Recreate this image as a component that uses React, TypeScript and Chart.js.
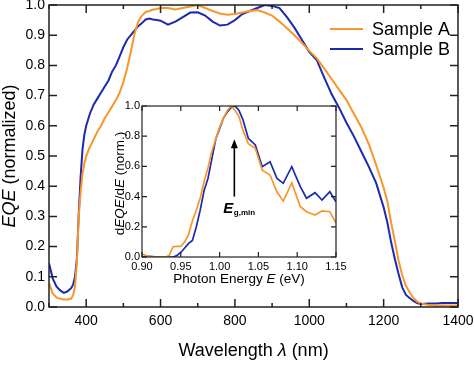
import { useEffect, useRef } from 'react';
import { Chart, registerables } from 'chart.js';

Chart.register(...registerables);

const FONT = '"Liberation Sans", Arial, Helvetica, sans-serif';

// ---------- main EQE data ----------
const wavelengths = [
  300, 310, 320, 330, 340, 350, 360, 365, 370, 375, 380, 385, 390, 395, 400, 410, 420, 430, 440, 450,
  460, 470, 480, 490, 500, 510, 520, 530, 540, 550, 560, 570, 580, 590, 600, 620, 640, 660, 680, 700,
  720, 740, 760, 780, 800, 820, 840, 860, 880, 900, 920, 940, 960, 980, 1000, 1020, 1040, 1060, 1080, 1100,
  1120, 1140, 1160, 1180, 1200, 1210, 1220, 1230, 1240, 1250, 1260, 1270, 1280, 1290, 1300, 1320, 1340, 1360, 1380, 1400,
];
const sampleA = [
  0.08, 0.045, 0.032, 0.027, 0.025, 0.025, 0.028, 0.04, 0.068, 0.15, 0.30, 0.38, 0.44, 0.475, 0.50, 0.53, 0.555, 0.58, 0.60, 0.625,
  0.645, 0.665, 0.685, 0.71, 0.745, 0.79, 0.845, 0.905, 0.945, 0.965, 0.977, 0.98, 0.985, 0.987, 0.99, 0.99, 0.985, 0.99, 0.995, 1.0,
  0.99, 0.98, 0.972, 0.968, 0.97, 0.975, 0.98, 0.983, 0.975, 0.965, 0.945, 0.923, 0.9, 0.875, 0.848, 0.824, 0.79, 0.755, 0.72, 0.685,
  0.64, 0.595, 0.54, 0.47, 0.395, 0.35, 0.28, 0.22, 0.155, 0.105, 0.07, 0.048, 0.03, 0.018, 0.012, 0.007, 0.005, 0.005, 0.005, 0.005,
];
const sampleB = [
  0.145, 0.095, 0.068, 0.055, 0.047, 0.052, 0.063, 0.075, 0.10, 0.16, 0.31, 0.43, 0.52, 0.57, 0.60, 0.64, 0.67, 0.69, 0.71, 0.73,
  0.75, 0.78, 0.80, 0.83, 0.86, 0.885, 0.90, 0.915, 0.93, 0.94, 0.952, 0.955, 0.952, 0.95, 0.948, 0.935, 0.945, 0.96, 0.975, 0.976,
  0.965, 0.945, 0.932, 0.935, 0.95, 0.97, 0.98, 0.99, 1.0, 0.997, 0.99, 0.96, 0.925, 0.885, 0.845, 0.818, 0.76, 0.705, 0.66, 0.61,
  0.565, 0.515, 0.465, 0.41, 0.33, 0.28, 0.215, 0.16, 0.11, 0.065, 0.04, 0.03, 0.02, 0.013, 0.01, 0.012, 0.012, 0.013, 0.013, 0.013,
];

// ---------- inset dEQE/dE data ----------
const energies = [
  0.90, 0.91, 0.92, 0.93, 0.935, 0.94, 0.945, 0.95, 0.955, 0.96, 0.965, 0.97, 0.975, 0.98, 0.985, 0.99, 0.995, 1.0, 1.005, 1.01,
  1.015, 1.02, 1.025, 1.03, 1.037, 1.046, 1.055, 1.065, 1.074, 1.082, 1.093, 1.104, 1.112, 1.123, 1.132, 1.142, 1.15,
];
const derivA = [
  0.02, 0.0, 0.0, 0.0, 0.01, 0.068, 0.07, 0.07, 0.10, 0.15, 0.24, 0.31, 0.39, 0.50, 0.59, 0.70, 0.78, 0.86, 0.92, 0.97,
  1.0, 0.97, 0.93, 0.84, 0.75, 0.72, 0.575, 0.543, 0.43, 0.37, 0.49, 0.333, 0.30, 0.278, 0.305, 0.30, 0.225,
];
const derivB = [
  0.0, 0.005, 0.0, 0.0, 0.0, 0.0, 0.01, 0.03, 0.06, 0.09, 0.11, 0.20, 0.31, 0.44, 0.52, 0.65, 0.78, 0.85, 0.92, 0.96,
  0.99, 1.0, 0.97, 0.91, 0.786, 0.742, 0.598, 0.631, 0.52, 0.488, 0.598, 0.466, 0.389, 0.426, 0.377, 0.433, 0.366,
];

const seriesLabels = ['Sample A', 'Sample B'];
const seriesColors = ['#F7962B', '#1B2AAE'];

// arrow marking E_g,min in inset (energy, from value, to value)
const arrowEnergy = 1.019;
const arrowFrom = 0.40;
const arrowTo = 0.78;

type Seg = { t: string; f: string };

function drawRich(ctx: CanvasRenderingContext2D, segs: Seg[], x: number, y: number, rot: boolean) {
  ctx.save();
  ctx.translate(x, y);
  if (rot) ctx.rotate(-Math.PI / 2);
  let total = 0;
  const widths = segs.map((s) => {
    ctx.font = s.f;
    const w = ctx.measureText(s.t).width;
    total += w;
    return w;
  });
  let cx = -total / 2;
  ctx.fillStyle = '#000';
  ctx.textBaseline = 'middle';
  ctx.textAlign = 'left';
  segs.forEach((s, i) => {
    ctx.font = s.f;
    ctx.fillText(s.t, cx, 0);
    cx += widths[i];
  });
  ctx.restore();
}

function frameTicks(id: string, isMajor: (v: number) => boolean, majorLen: number, minorLen: number, yLen: number, lw: number) {
  return {
    id,
    afterDatasetsDraw(chart: any) {
      const { ctx, chartArea: a, scales } = chart;
      const x = scales.x;
      const y = scales.y;
      ctx.save();
      ctx.strokeStyle = '#222';
      ctx.lineWidth = lw;
      ctx.beginPath();
      for (const t of x.ticks) {
        const px = x.getPixelForValue(t.value);
        const len = isMajor(t.value) ? majorLen : minorLen;
        ctx.moveTo(px, a.bottom);
        ctx.lineTo(px, a.bottom - len);
        ctx.moveTo(px, a.top);
        ctx.lineTo(px, a.top + len);
      }
      for (const t of y.ticks) {
        const py = y.getPixelForValue(t.value);
        ctx.moveTo(a.left, py);
        ctx.lineTo(a.left + yLen, py);
        ctx.moveTo(a.right, py);
        ctx.lineTo(a.right - yLen, py);
      }
      ctx.stroke();
      ctx.strokeRect(a.left, a.top, a.right - a.left, a.bottom - a.top);
      ctx.restore();
    },
  };
}

const mainTitles = {
  id: 'mainTitles',
  afterDraw(chart: any) {
    const { ctx, chartArea: a } = chart;
    const n = `18px ${FONT}`;
    const it = `italic 18px ${FONT}`;
    drawRich(ctx, [{ t: 'Wavelength ', f: n }, { t: 'λ', f: it }, { t: ' (nm)', f: n }], (a.left + a.right) / 2, a.bottom + 44, false);
    drawRich(ctx, [{ t: 'EQE', f: it }, { t: ' (normalized)', f: n }], a.left - 39, (a.top + a.bottom) / 2, true);
  },
};

const mainLegend = {
  id: 'mainLegend',
  afterDraw(chart: any) {
    const { ctx, chartArea: a } = chart;
    const x0 = a.right - 128;
    chart.data.datasets.forEach((ds: any, i: number) => {
      const yy = a.top + 24 + i * 20;
      ctx.save();
      ctx.strokeStyle = ds.borderColor;
      ctx.lineWidth = 2;
      ctx.beginPath();
      ctx.moveTo(x0, yy);
      ctx.lineTo(x0 + 33, yy);
      ctx.stroke();
      ctx.fillStyle = '#000';
      ctx.font = `18px ${FONT}`;
      ctx.textBaseline = 'middle';
      ctx.textAlign = 'left';
      ctx.fillText(ds.label, x0 + 42, yy + 1);
      ctx.restore();
    });
  },
};

const insetBg = {
  id: 'insetBg',
  beforeDraw(chart: any) {
    const { ctx, chartArea: a } = chart;
    ctx.save();
    ctx.fillStyle = '#fff';
    ctx.fillRect(a.left, a.top, a.right - a.left, a.bottom - a.top);
    ctx.restore();
  },
};

const insetExtras = {
  id: 'insetExtras',
  afterDraw(chart: any) {
    const { ctx, chartArea: a, scales } = chart;
    const x = scales.x;
    const y = scales.y;
    const n = `13.5px ${FONT}`;
    const it = `italic 13.5px ${FONT}`;
    drawRich(ctx, [{ t: 'Photon Energy ', f: n }, { t: 'E', f: it }, { t: ' (eV)', f: n }], (a.left + a.right) / 2, a.bottom + 22, false);
    drawRich(
      ctx,
      [
        { t: 'd', f: n },
        { t: 'EQE', f: it },
        { t: '/d', f: n },
        { t: 'E', f: it },
        { t: ' (norm.)', f: n },
      ],
      a.left - 22,
      (a.top + a.bottom) / 2 + 2,
      true,
    );
    // arrow
    const ax = x.getPixelForValue(arrowEnergy);
    const y0 = y.getPixelForValue(arrowFrom);
    const y1 = y.getPixelForValue(arrowTo);
    ctx.save();
    ctx.strokeStyle = '#000';
    ctx.fillStyle = '#000';
    ctx.lineWidth = 1.6;
    ctx.beginPath();
    ctx.moveTo(ax, y0);
    ctx.lineTo(ax, y1 + 6);
    ctx.stroke();
    ctx.beginPath();
    ctx.moveTo(ax, y1);
    ctx.lineTo(ax - 3.5, y1 + 9);
    ctx.lineTo(ax + 3.5, y1 + 9);
    ctx.closePath();
    ctx.fill();
    // label E_g,min
    ctx.textBaseline = 'alphabetic';
    ctx.textAlign = 'left';
    ctx.font = `italic bold 15px ${FONT}`;
    const lx = ax - 11;
    const ly = y0 + 16;
    ctx.fillText('E', lx, ly);
    const w = ctx.measureText('E').width;
    ctx.font = `bold 8px ${FONT}`;
    ctx.fillText('g,min', lx + w + 0.5, ly + 2);
    ctx.restore();
  },
};

function zeroPad(s: any) {
  s.paddingLeft = 0;
  s.paddingRight = 0;
  s.paddingTop = 0;
  s.paddingBottom = 0;
}

export default function App() {
  const mainRef = useRef<HTMLCanvasElement>(null);
  const insetRef = useRef<HTMLCanvasElement>(null);

  useEffect(() => {
    if (!mainRef.current || !insetRef.current) return;
    const main = new Chart(mainRef.current, {
      type: 'line',
      data: {
        datasets: [
          {
            label: seriesLabels[0],
            data: wavelengths.map((w, i) => ({ x: w, y: sampleA[i] })),
            borderColor: seriesColors[0],
            borderWidth: 2,
            pointRadius: 0,
            fill: false,
            tension: 0,
          },
          {
            label: seriesLabels[1],
            data: wavelengths.map((w, i) => ({ x: w, y: sampleB[i] })),
            borderColor: seriesColors[1],
            borderWidth: 2,
            pointRadius: 0,
            fill: false,
            tension: 0,
          },
        ],
      },
      options: {
        responsive: false,
        animation: false,
        devicePixelRatio: 1,
        layout: { padding: { top: 5, right: 16, left: 0, bottom: 0 } },
        plugins: { legend: { display: false }, tooltip: { enabled: false } },
        scales: {
          x: {
            type: 'linear',
            min: 300,
            max: 1400,
            grid: { display: false, drawTicks: false },
            border: { display: false },
            ticks: {
              stepSize: 100,
              autoSkip: false,
              maxRotation: 0,
              padding: 6,
              color: '#000',
              font: { family: FONT, size: 14 },
              callback: (v: any) => (Number(v) % 200 === 0 ? String(v) : ''),
            },
            afterFit: (s: any) => {
              s.height = 59;
              zeroPad(s);
            },
          },
          y: {
            type: 'linear',
            min: 0,
            max: 1,
            grid: { display: false, drawTicks: false },
            border: { display: false },
            ticks: {
              stepSize: 0.1,
              autoSkip: false,
              padding: 4,
              color: '#000',
              font: { family: FONT, size: 14 },
              callback: (v: any) => Number(v).toFixed(1),
            },
            afterFit: (s: any) => {
              s.width = 49;
              zeroPad(s);
            },
          },
        },
      },
      plugins: [frameTicks('mainFrame', (v) => v % 200 === 0, 8, 4, 8, 1.5), mainTitles, mainLegend],
    } as any);

    const inset = new Chart(insetRef.current, {
      type: 'line',
      data: {
        datasets: [
          {
            label: seriesLabels[0],
            data: energies.map((e, i) => ({ x: e, y: derivA[i] })),
            borderColor: seriesColors[0],
            borderWidth: 1.7,
            pointRadius: 0,
            fill: false,
            tension: 0,
          },
          {
            label: seriesLabels[1],
            data: energies.map((e, i) => ({ x: e, y: derivB[i] })),
            borderColor: seriesColors[1],
            borderWidth: 1.7,
            pointRadius: 0,
            fill: false,
            tension: 0,
          },
        ],
      },
      options: {
        responsive: false,
        animation: false,
        devicePixelRatio: 1,
        layout: { padding: { top: 10, right: 19, left: 0, bottom: 0 } },
        plugins: { legend: { display: false }, tooltip: { enabled: false } },
        scales: {
          x: {
            type: 'linear',
            min: 0.9,
            max: 1.15,
            grid: { display: false, drawTicks: false },
            border: { display: false },
            ticks: {
              stepSize: 0.05,
              autoSkip: false,
              maxRotation: 0,
              padding: 3,
              color: '#000',
              font: { family: FONT, size: 11 },
              callback: (v: any) => Number(v).toFixed(2),
            },
            afterFit: (s: any) => {
              s.height = 33;
              zeroPad(s);
            },
          },
          y: {
            type: 'linear',
            min: 0,
            max: 1,
            grid: { display: false, drawTicks: false },
            border: { display: false },
            ticks: {
              stepSize: 0.2,
              autoSkip: false,
              padding: 2,
              color: '#000',
              font: { family: FONT, size: 11 },
              callback: (v: any) => Number(v).toFixed(1),
            },
            afterFit: (s: any) => {
              s.width = 42;
              zeroPad(s);
            },
          },
        },
      },
      plugins: [insetBg, frameTicks('insetFrame', () => true, 5, 5, 5, 1.2), insetExtras],
    } as any);

    return () => {
      main.destroy();
      inset.destroy();
    };
  }, []);

  return (
    <div style={{ position: 'absolute', left: 0, top: 0, width: 474, height: 366, background: '#fff' }}>
      <canvas ref={mainRef} width={474} height={366} style={{ position: 'absolute', left: 0, top: 0, display: 'block' }} />
      <canvas ref={insetRef} width={255} height={194} style={{ position: 'absolute', left: 100, top: 96, display: 'block' }} />
    </div>
  );
}
